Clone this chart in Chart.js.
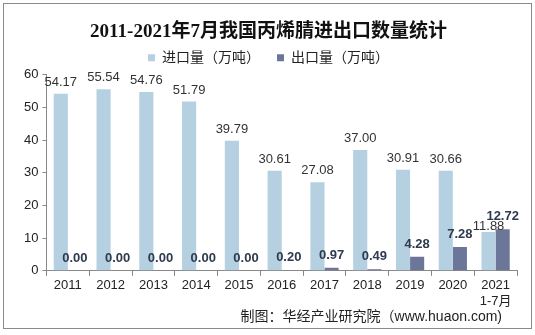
<!DOCTYPE html>
<html>
<head>
<meta charset="utf-8">
<script src="https://cdn.jsdelivr.net/npm/chart.js@4/dist/chart.umd.min.js"></script>
<style>
  html, body { margin: 0; padding: 0; background: #fff; }
  #wrap { position: relative; width: 535px; height: 335px; }
</style>
</head>
<body>
<div id="wrap"><canvas id="c" width="535" height="335"></canvas></div>
<script>
const years = ['2011', '2012', '2013', '2014', '2015', '2016', '2017', '2018', '2019', '2020', ['2021', '1-7月']];
const importVals = [54.17, 55.54, 54.76, 51.79, 39.79, 30.61, 27.08, 37.00, 30.91, 30.66, 11.88];
const exportVals = [0.00, 0.00, 0.00, 0.00, 0.00, 0.20, 0.97, 0.49, 4.28, 7.28, 12.72];
const yTicks = [0, 10, 20, 30, 40, 50, 60];

const cnFont = "'Liberation Sans', 'Noto Sans CJK SC', sans-serif";

// value labels + frame + source note
const extras = {
    id: 'extras',
    afterDatasetsDraw(chart) {
        const ctx = chart.ctx;
        ctx.save();
        ctx.textAlign = 'center';
        ctx.textBaseline = 'bottom';
        chart.data.datasets.forEach((ds, i) => {
            const meta = chart.getDatasetMeta(i);
            meta.data.forEach((bar, j) => {
                const v = ds.data[j];
                if (i === 0) {
                    // when the export bar is taller, the import label sits lower
                    const off = exportVals[j] > importVals[j] ? -1 : 5;
                    ctx.font = "13px " + cnFont;
                    ctx.fillStyle = '#333';
                    ctx.fillText(v.toFixed(2), bar.x, bar.y - off);
                } else {
                    ctx.font = "bold 13px " + cnFont;
                    ctx.fillStyle = '#2e3a4e';
                    ctx.fillText(v.toFixed(2), bar.x, bar.y - 6);
                }
            });
        });
        ctx.restore();
    },
    afterDraw(chart) {
        const ctx = chart.ctx;
        ctx.save();
        ctx.strokeStyle = '#8a8a8a';
        ctx.lineWidth = 1;
        ctx.strokeRect(3.5, 3.5, 528, 325);
        ctx.font = "14px " + cnFont;
        ctx.fillStyle = '#222';
        ctx.textAlign = 'right';
        ctx.textBaseline = 'middle';
        ctx.fillText('制图：华经产业研究院（www.huaon.com)', 502, 317);
        ctx.restore();
    }
};

new Chart(document.getElementById('c'), {
    type: 'bar',
    data: {
        labels: years,
        datasets: [{
            label: '进口量（万吨）',
            data: importVals,
            backgroundColor: '#b5d0e1',
            categoryPercentage: 0.66,
            barPercentage: 1.0
        }, {
            label: '出口量（万吨）',
            data: exportVals,
            backgroundColor: '#6c7699',
            categoryPercentage: 0.66,
            barPercentage: 1.0
        }]
    },
    options: {
        responsive: false,
        animation: false,
        layout: { padding: { left: 20, right: 18, top: 8, bottom: 24 } },
        plugins: {
            title: {
                display: true,
                text: '2011-2021年7月我国丙烯腈进出口数量统计',
                font: { family: "'Liberation Serif', 'Noto Sans CJK SC', serif", size: 19, weight: 'bold' },
                color: '#111',
                padding: { top: 13, bottom: -3 }
            },
            legend: {
                display: true,
                labels: {
                    boxWidth: 7,
                    boxHeight: 7,
                    padding: 10,
                    font: { family: cnFont, size: 14 },
                    color: '#222',
                    generateLabels(chart) {
                        const items = Chart.defaults.plugins.legend.labels.generateLabels(chart);
                        items[0].text += '\u3000';
                        return items;
                    }
                }
            },
            tooltip: { enabled: false }
        },
        scales: {
            x: {
                grid: { drawOnChartArea: false, drawTicks: true, tickLength: 5, color: '#888' },
                border: { color: '#888' },
                ticks: { font: { family: cnFont, size: 13 }, color: '#222', padding: 2, maxRotation: 0 }
            },
            y: {
                min: 0,
                max: 60,
                afterBuildTicks: (axis) => { axis.ticks = yTicks.map(v => ({ value: v })); },
                grid: { drawOnChartArea: false, drawTicks: true, tickLength: 4, color: '#888' },
                border: { color: '#888' },
                ticks: { font: { family: cnFont, size: 13 }, color: '#222', padding: 4 }
            }
        }
    },
    plugins: [extras]
});
</script>
</body>
</html>
